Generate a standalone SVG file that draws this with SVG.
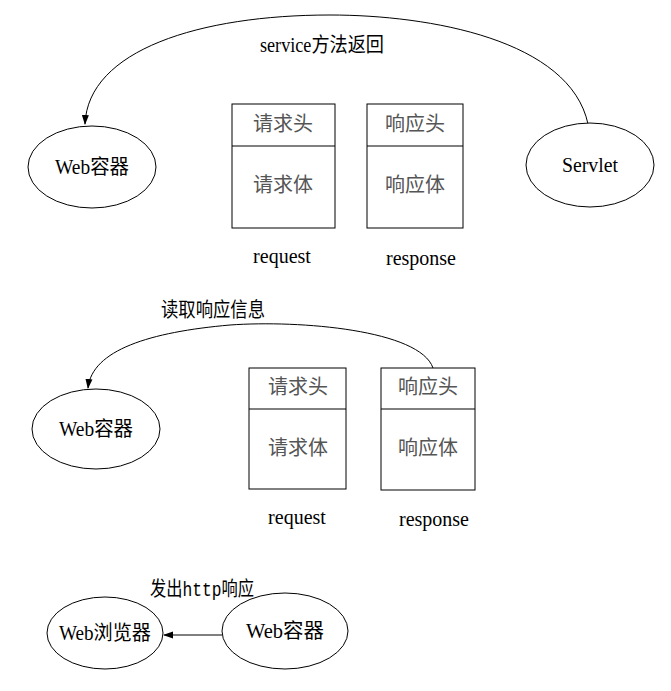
<svg xmlns="http://www.w3.org/2000/svg" width="671" height="691" viewBox="0 0 671 691">
<defs><marker id="a" markerWidth="10" markerHeight="10" refX="9" refY="5" orient="auto" markerUnits="userSpaceOnUse"><path d="M0,1.5 L10,5 L0,8.5 Z" fill="#000"/></marker></defs>
<style>
.s{fill:none;stroke:#000;stroke-width:1}
.n{fill:#fff;stroke:#000;stroke-width:1}
text{font-family:"Liberation Serif","Noto Sans CJK SC",serif;font-size:20px;text-anchor:middle;fill:#000}
.g{fill:#555}
</style>
<rect width="671" height="691" fill="#fff"/>
<g id="connectors">
<path class="s" d="M588,124 C570,40 430,15 330,15 C200,15 88,50 85,124" marker-end="url(#a)"/>
<path class="s" d="M433,368 C420,330 300,320 230,325 C150,332 92,350 88,388" marker-end="url(#a)"/>
<path class="s" d="M222,635 L164,635" marker-end="url(#a)"/>
</g>
<text x="322" y="52" font-size="16" textLength="124" lengthAdjust="spacingAndGlyphs">service方法返回</text>
<g id="web1"><ellipse class="n" cx="92" cy="167" rx="64" ry="41"/><text x="92" y="174" textLength="74" lengthAdjust="spacingAndGlyphs">Web容器</text></g>
<g id="servlet"><ellipse class="n" cx="590" cy="165" rx="64" ry="42"/><text x="590" y="172" textLength="56" lengthAdjust="spacingAndGlyphs">Servlet</text></g>
<g id="req1"><rect class="n" x="232" y="104" width="103" height="124"/><line class="s" x1="232" y1="146" x2="335" y2="146"/><text class="g" x="283" y="131">请求头</text><text class="g" x="283" y="192">请求体</text></g>
<g id="resp1"><rect class="n" x="367" y="104" width="96" height="124"/><line class="s" x1="367" y1="146" x2="463" y2="146"/><text class="g" x="415" y="131">响应头</text><text class="g" x="415" y="192">响应体</text></g>
<text x="282" y="263">request</text>
<text x="421" y="265">response</text>
<text x="213" y="317" font-size="16" textLength="104" lengthAdjust="spacingAndGlyphs">读取响应信息</text>
<g id="web2"><ellipse class="n" cx="96" cy="429" rx="64" ry="40"/><text x="96" y="436" textLength="74" lengthAdjust="spacingAndGlyphs">Web容器</text></g>
<g id="req2"><rect class="n" x="249" y="368" width="97" height="121"/><line class="s" x1="249" y1="409" x2="346" y2="409"/><text class="g" x="298" y="394">请求头</text><text class="g" x="298" y="455">请求体</text></g>
<g id="resp2"><rect class="n" x="381" y="368" width="94" height="122"/><line class="s" x1="381" y1="409" x2="475" y2="409"/><text class="g" x="428" y="394">响应头</text><text class="g" x="428" y="455">响应体</text></g>
<text x="297" y="524">request</text>
<text x="434" y="526">response</text>
<text x="202" y="596" font-size="16" textLength="104" lengthAdjust="spacingAndGlyphs">发出<tspan font-family="Liberation Mono">http</tspan>响应</text>
<g id="browser"><ellipse class="n" cx="105" cy="633" rx="58" ry="36"/><text x="105" y="640" textLength="92" lengthAdjust="spacingAndGlyphs">Web浏览器</text></g>
<g id="web3"><ellipse class="n" cx="285" cy="631" rx="63" ry="38"/><text x="285" y="638" textLength="78" lengthAdjust="spacingAndGlyphs">Web容器</text></g>
</svg>
